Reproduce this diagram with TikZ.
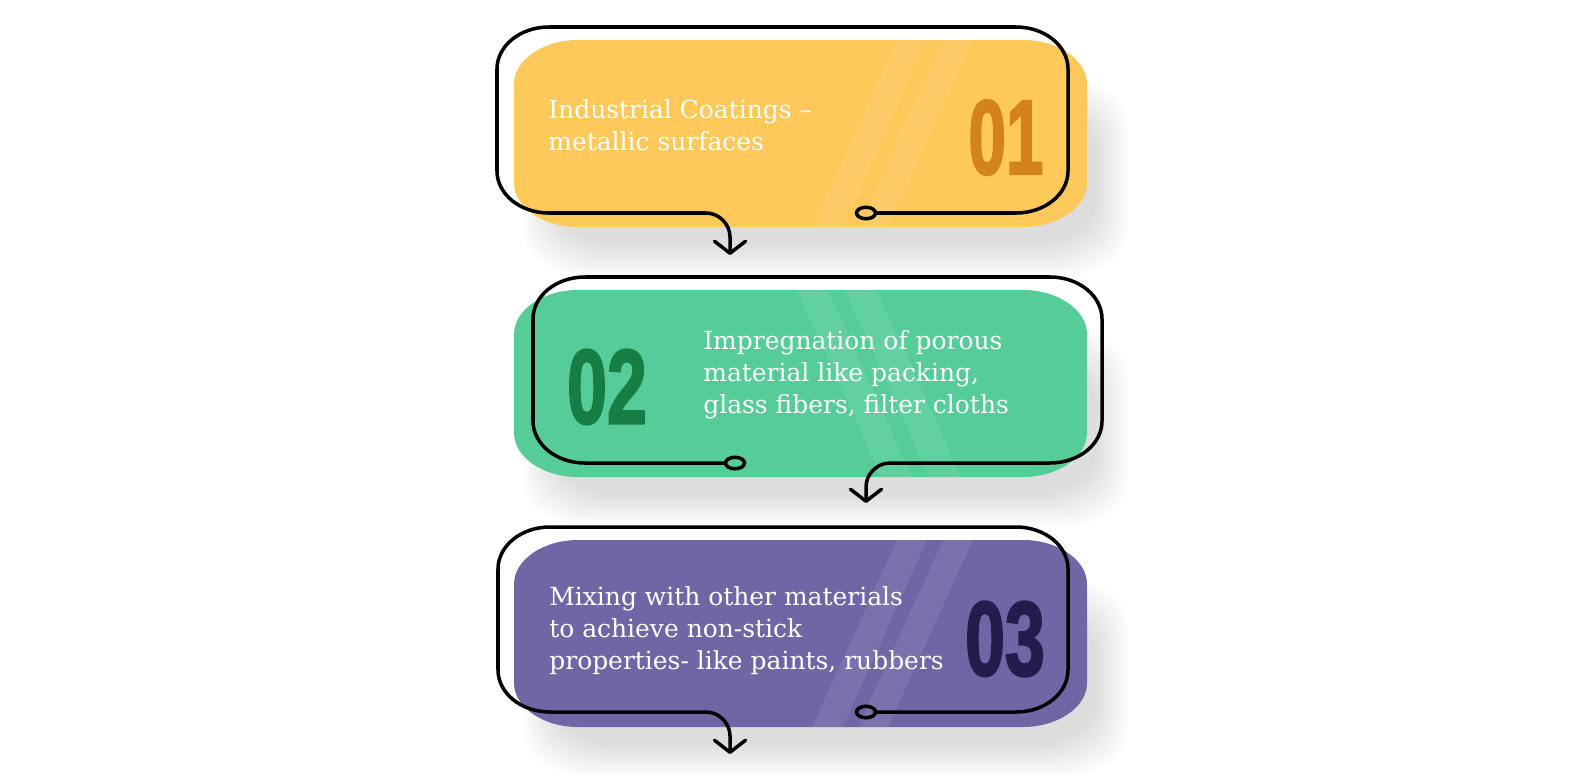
\documentclass[tikz,border=0pt]{standalone}
\usepackage{fontspec}
\setmainfont{DejaVu Serif}
\newfontfamily\numfont{Liberation Sans}[BoldFeatures={FakeBold=2.5}]
\usepackage{graphicx}
\usepackage{xcolor}
\usetikzlibrary{arrows.meta,shapes.geometric}

\definecolor{cardyellow}{HTML}{FEC85A}
\definecolor{cardgreen}{HTML}{56CC99}
\definecolor{cardpurple}{HTML}{6E66A5}
\definecolor{numyellow}{HTML}{D4821A}
\definecolor{numgreen}{HTML}{167D45}
\definecolor{numpurple}{HTML}{231D4E}

% card outline: left, top, right, bottom (corners 64 x 44)
\newcommand{\cardshape}[4]{(#1,#2+44) .. controls (#1,#2+20) and (#1+29,#2) .. (#1+64,#2) -- (#3-64,#2) .. controls (#3-29,#2) and (#3,#2+20) .. (#3,#2+44) -- (#3,#4-44) .. controls (#3,#4-20) and (#3-29,#4) .. (#3-64,#4) -- (#1+64,#4) .. controls (#1+29,#4) and (#1,#4-20) .. (#1,#4-44) -- cycle}

\begin{document}
\begin{tikzpicture}[
  x=0.2mm, y=-0.2mm,
  frame/.style={draw=black, line width=2pt, line cap=round, line join=round},
  lead/.style={-{Straight Barb[length=2.4mm,width=6.2mm,round]}},
  ring/.style={ellipse, draw=black, line width=2pt, minimum width=3.8mm, minimum height=2.3mm, inner sep=0pt},
  txt/.style={anchor=north west, inner sep=0pt, align=left, text=white, font=\fontsize{14.2}{18.4}\selectfont},
  num/.style={inner sep=0pt, font=\numfont\bfseries\fontsize{60}{60}\selectfont},
  glint/.style={fill=white, opacity=0.08}
]
\fill[white] (0,0) rectangle (1581,783);
\useasboundingbox (0,0) rectangle (1581,783);

% shadows and cards
\foreach \t/\col in {40/cardyellow, 290/cardgreen, 540/cardpurple} {
  \foreach \k in {0,2,...,32}
    \fill[black, opacity=0.008] \cardshape{555-\k}{\t+70-\k}{1096+\k}{\t+205+\k};
  \fill[\col] \cardshape{514}{\t}{1087}{\t+187};
}

% light stripes
\fill[glint] (897,40) -- (927,40) -- (843,227) -- (812,227) -- cycle;
\fill[glint] (943,40) -- (973,40) -- (888,227) -- (858,227) -- cycle;
\fill[glint] (797,290) -- (828,290) -- (912,477) -- (881,477) -- cycle;
\fill[glint] (845,290) -- (877,290) -- (961,477) -- (929,477) -- cycle;
\fill[glint] (897,540) -- (927,540) -- (843,727) -- (812,727) -- cycle;
\fill[glint] (943,540) -- (973,540) -- (888,727) -- (858,727) -- cycle;

% texts
\node[txt] (step1) at (548,99) {Industrial Coatings –\\metallic surfaces};
\node[txt] (step2) at (703,330) {Impregnation of porous\\material like packing,\\glass fibers, filter cloths};
\node[txt] (step3) at (549,586) {Mixing with other materials\\to achieve non-stick\\properties- like paints, rubbers};

\node[num, text=numyellow] (num1) at (1006,137.5) {\scalebox{0.64}[1]{01}};
\node[num, text=numgreen] (num2) at (607,387) {\scalebox{0.68}[1]{02}};
\node[num, text=numpurple] (num3) at (1005,639) {\scalebox{0.68}[1]{03}};

% frames with leads
\node[ring] (ring1) at (866,213) {};
\node[ring] (ring2) at (735,463) {};
\node[ring] (ring3) at (866,712) {};
\coordinate (tip1) at (730,255);
\coordinate (tip2) at (866,503);
\coordinate (tip3) at (730,754);

\draw[frame, lead] (ring1.east) -- (1016,213) .. controls (1045,213) and (1068,194) .. (1068,171) -- (1068,69) .. controls (1068,46) and (1045,27) .. (1016,27) -- (549,27) .. controls (520,27) and (497,46) .. (497,69) -- (497,171) .. controls (497,194) and (520,213) .. (549,213) -- (706,213) .. controls (719,213) and (730,224) .. (730,237) -- (tip1);
\draw[frame, lead] (ring2.west) -- (585,463) .. controls (556,463) and (533,444) .. (533,421) -- (533,319) .. controls (533,296) and (556,277) .. (585,277) -- (1050,277) .. controls (1079,277) and (1102,296) .. (1102,319) -- (1102,421) .. controls (1102,444) and (1079,463) .. (1050,463) -- (890,463) .. controls (877,463) and (866,474) .. (866,487) -- (tip2);
\draw[frame, lead] (ring3.east) -- (1016,712) .. controls (1045,712) and (1068,693) .. (1068,670) -- (1068,569) .. controls (1068,546) and (1045,527) .. (1016,527) -- (550,527) .. controls (521,527) and (498,546) .. (498,569) -- (498,670) .. controls (498,693) and (521,712) .. (550,712) -- (706,712) .. controls (719,712) and (730,723) .. (730,736) -- (tip3);
\end{tikzpicture}
\end{document}
